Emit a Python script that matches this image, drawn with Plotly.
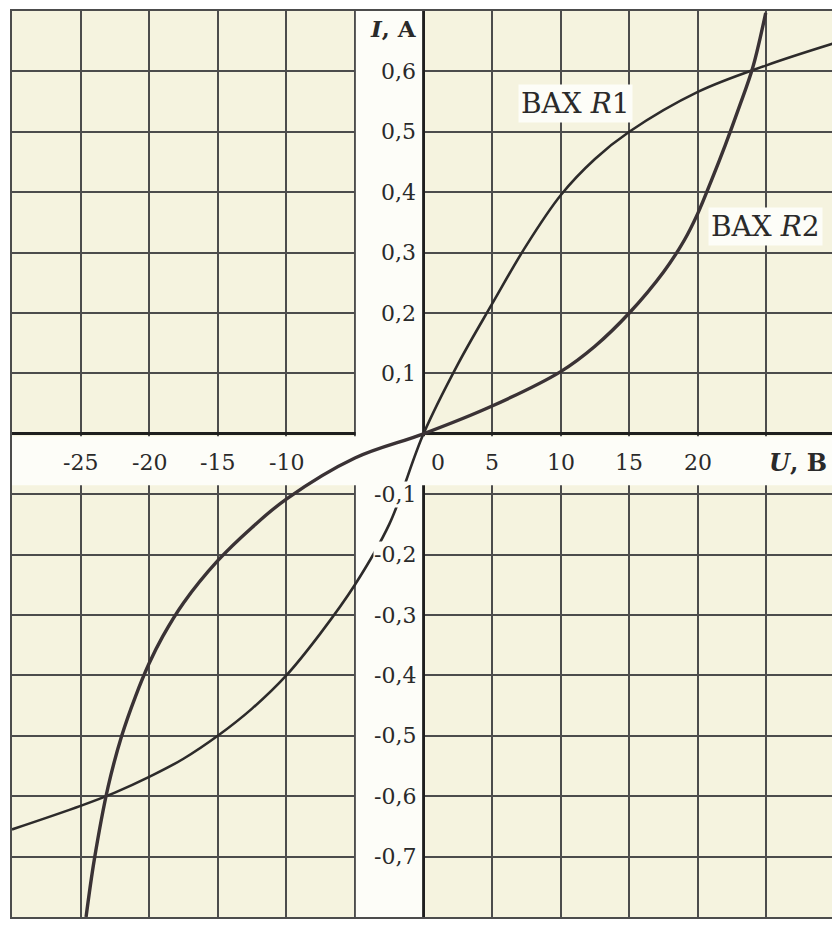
import plotly.graph_objects as go

# ---- data ----
u_r1 = [-30, -25, -22.5, -20, -17.5, -15, -12.5, -10, -7.5, -5, -2.5, 0,
        2.5, 5, 7.5, 10, 12.5, 15, 20, 25, 30]
i_r1 = [-0.655, -0.616, -0.594, -0.568, -0.538, -0.5, -0.455, -0.4, -0.33, -0.25, -0.15, 0,
        0.115, 0.215, 0.312, 0.395, 0.455, 0.5, 0.566, 0.61, 0.647]

u_r2 = [-24.6, -24, -23, -22, -21, -20, -19, -17.5, -15, -12.5, -10, -5, 0,
        5, 10, 12.5, 15, 17.5, 19, 20, 21, 22, 23, 24, 24.95]
i_r2 = [-0.8, -0.705, -0.585, -0.5, -0.435, -0.38, -0.335, -0.28, -0.21, -0.155, -0.108, -0.04, 0,
        0.046, 0.103, 0.145, 0.2, 0.268, 0.32, 0.365, 0.42, 0.478, 0.54, 0.606, 0.697]

x_ticks = [-25, -20, -15, -10, 0, 5, 10, 15, 20]
x_tick_text = ["-25", "-20", "-15", "-10", "0", "5", "10", "15", "20"]
y_ticks = [0.6, 0.5, 0.4, 0.3, 0.2, 0.1, -0.1, -0.2, -0.3, -0.4, -0.5, -0.6, -0.7]
y_tick_text = ["0,6", "0,5", "0,4", "0,3", "0,2", "0,1", "-0,1", "-0,2", "-0,3", "-0,4", "-0,5", "-0,6", "-0,7"]

curve_labels = ["BAX <i>R</i>1", "BAX <i>R</i>2"]
curve_label_u = [11.1, 24.9]
curve_label_i = [0.547, 0.344]

FONT = "DejaVu Serif"
GRID = "#4c4c4c"
CREAM = "#f5f3df"
WHITE = "#fdfdf8"
TXT = "#2a2a2a"

fig = go.Figure()
fig.add_trace(go.Scatter(x=u_r1, y=i_r1, mode="lines",
                         line=dict(color="#2d2b2b", width=2.6, shape="spline", smoothing=1.0),
                         hoverinfo="skip", showlegend=False))
fig.add_trace(go.Scatter(x=u_r2, y=i_r2, mode="lines",
                         line=dict(color="#3a3235", width=3.4, shape="spline", smoothing=1.0),
                         hoverinfo="skip", showlegend=False))

# white label bands (between gridlines and curves)
fig.add_shape(type="rect", xref="x", yref="y", x0=-4.93, x1=-0.1, y0=-0.8, y1=0.7,
              fillcolor=WHITE, line_width=0, layer="between")
fig.add_shape(type="rect", xref="x", yref="y", x0=-30, x1=30, y0=-0.085, y1=-0.004,
              fillcolor=WHITE, line_width=0, layer="between")

annotations = []
for v, t in zip(x_ticks, x_tick_text):
    annotations.append(dict(x=v, y=0, xref="x", yref="y", text=t, showarrow=False,
                            xanchor="center", yanchor="middle", yshift=-29,
                            xshift=14 if v == 0 else 0,
                            font=dict(family=FONT, size=22, color=TXT)))
for v, t in zip(y_ticks, y_tick_text):
    annotations.append(dict(x=0, y=v, xref="x", yref="y", text=t, showarrow=False,
                            xanchor="right", yanchor="middle", xshift=-7,
                            bgcolor=WHITE, borderpad=0,
                            font=dict(family=FONT, size=22, color=TXT)))
annotations.append(dict(x=0, y=0.671, xref="x", yref="y", text="<b><i>I</i>, A</b>",
                        showarrow=False, xanchor="right", yanchor="middle", xshift=-5,
                        font=dict(family=FONT, size=23, color=TXT)))
annotations.append(dict(x=27.3, y=0, xref="x", yref="y", text="<b><i>U</i>, B</b>",
                        showarrow=False, xanchor="center", yanchor="middle", yshift=-29,
                        font=dict(family=FONT, size=24, color=TXT)))
for t, u, i in zip(curve_labels, curve_label_u, curve_label_i):
    annotations.append(dict(x=u, y=i, xref="x", yref="y", text=t, showarrow=False,
                            xanchor="center", yanchor="middle",
                            bgcolor=WHITE, borderpad=2,
                            font=dict(family=FONT, size=28, color=TXT)))

# page body has an 8px margin: size the figure so the plot area lands where the reference has it
fig.update_layout(
    width=832, height=918,
    margin=dict(l=4, r=5, t=1, b=9),
    paper_bgcolor="white",
    plot_bgcolor=CREAM,
    annotations=annotations,
    showlegend=False,
)
fig.update_xaxes(range=[-30, 30], dtick=5, tick0=0, showgrid=True, gridcolor=GRID, gridwidth=1.5,
                 zeroline=True, zerolinecolor="#1e1e1e", zerolinewidth=3,
                 showline=True, mirror=True, linecolor=GRID, linewidth=1.5,
                 showticklabels=False, ticks="", fixedrange=True)
fig.update_yaxes(range=[-0.8, 0.7], dtick=0.1, tick0=0, showgrid=True, gridcolor=GRID, gridwidth=1.5,
                 zeroline=True, zerolinecolor="#1e1e1e", zerolinewidth=3,
                 showline=True, mirror=True, linecolor=GRID, linewidth=1.5,
                 showticklabels=False, ticks="", fixedrange=True)

fig.write_html("out.html")
